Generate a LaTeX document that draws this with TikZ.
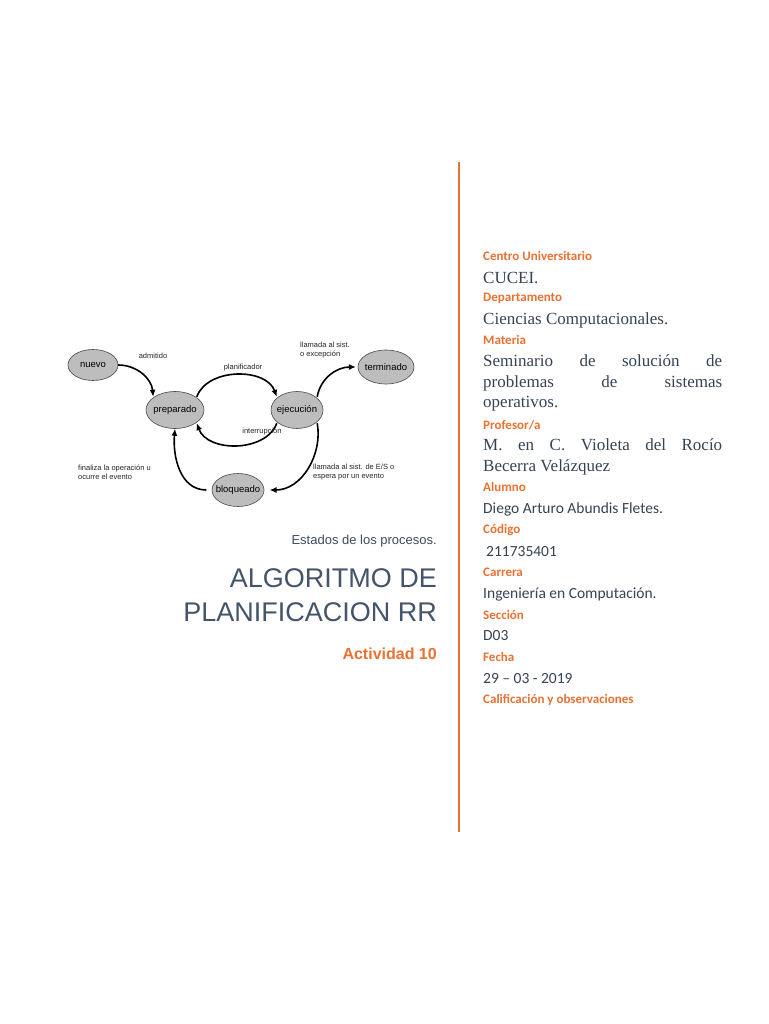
\documentclass[tikz,border=0pt]{standalone}
\usepackage{fontspec}
\setmainfont{Liberation Serif}
\newfontfamily\calfnt{Carlito}
\newfontfamily\ars{Liberation Sans}
\usetikzlibrary{shapes.geometric,arrows.meta}
\definecolor{org}{HTML}{E97132}
\definecolor{ttl}{HTML}{44546A}
\definecolor{stfill}{HTML}{BDBDBD}
\tikzset{
 st/.style={ellipse,font=\ars\fontsize{9.5}{10}\selectfont,inner sep=0pt},
 el/.style={draw=black!70,line width=0.6pt,fill=stfill},
 tr/.style={line width=1.6pt,-{Latex[length=7pt,width=6pt]}},
 lb/.style={font=\ars\fontsize{7.5}{9}\selectfont,align=left,inner sep=0pt,text=black!85},
 hd/.style={anchor=west,font=\calfnt\bfseries\fontsize{13}{14}\selectfont,text=org,inner sep=0pt},
 vs/.style={anchor=west,font=\fontsize{17}{18}\selectfont,text=ttl!80!black,inner sep=0pt},
 vc/.style={anchor=west,font=\calfnt\fontsize{15.5}{18}\selectfont,text=ttl!80!black,inner sep=0pt},
 jl/.style={anchor=west,font=\fontsize{17}{18}\selectfont,text=ttl!80!black,inner sep=0pt}
}
\newcommand\jline[1]{\makebox[239pt][s]{#1}}
\begin{document}
\begin{tikzpicture}[x=1pt,y=1pt]
\useasboundingbox[fill=white] (0,-1024) rectangle (768,0);
% diagram
\path[el] (93,-365) ellipse [x radius=25, y radius=15.5];
\path[el] (175,-410) ellipse [x radius=29, y radius=18.5];
\path[el] (297,-410) ellipse [x radius=26, y radius=18.5];
\path[el] (386,-367) ellipse [x radius=28, y radius=17];
\path[el] (238,-490) ellipse [x radius=26, y radius=16.5];
\node[st,minimum width=50pt,minimum height=31pt] (nu) at (93,-365) {nuevo};
\node[st,minimum width=58pt,minimum height=37pt] (pr) at (175,-410) {preparado};
\node[st,minimum width=52pt,minimum height=37pt] (ej) at (297,-410) {ejecución};
\node[st,minimum width=56pt,minimum height=34pt] (te) at (386,-367) {terminado};
\node[st,minimum width=52pt,minimum height=33pt] (bl) at (238,-490) {bloqueado};
\draw[tr] (nu.east) to[out=0,in=95] (pr.north west);
\draw[tr] (pr.north east) to[out=70,in=110] (ej.north west);
\draw[tr] (ej.south west) to[out=-110,in=-70] (pr.south east);
\draw[tr] (ej.north east) to[out=80,in=180] (te.west);
\draw[tr] (ej.south east) to[out=-80,in=0] (bl.east);
\draw[tr] (bl.west) to[out=180,in=-95] (pr.south);
\node[lb] (l1) at (153,-356) {admitido};
\node[lb] (l2) at (243,-368) {planificador};
\node[lb] (l3) at (262,-432) {interrupción};
\node[lb,anchor=west] (l4) at (300,-350) {llamada al sist.\\o excepción};
\node[lb,anchor=west] (l5) at (78,-472) {finaliza la operación u\\ocurre el evento};
\node[lb,anchor=west] (l6) at (313,-472) {llamada al sist. de E/S o\\espera por un evento};
% title
\node[anchor=east,font=\ars\fontsize{13}{14}\selectfont,text=ttl!90!black,inner sep=0pt] (es) at (437,-541) {Estados de los procesos.};
\node[anchor=east,font=\ars\fontsize{27}{30}\selectfont,text=ttl,inner sep=0pt] (a1) at (437,-578) {ALGORITMO DE};
\node[anchor=east,font=\ars\fontsize{27}{30}\selectfont,text=ttl,inner sep=0pt] (a2) at (437,-612) {PLANIFICACION RR};
\node[anchor=east,font=\ars\bfseries\fontsize{16}{18}\selectfont,text=org,inner sep=0pt] (ac) at (437,-654) {Actividad 10};
% divider
\draw[org,line width=2pt] (459,-162) -- (459,-832);
% right column
\node[hd] (h1) at (483,-256) {Centro Universitario};
\node[vs] (v1) at (483,-278) {CUCEI.};
\node[hd] (h2) at (483,-298) {Departamento};
\node[vs] (v2) at (483,-320) {Ciencias Computacionales.};
\node[hd] (h3) at (483,-340) {Materia};
\node[jl] (v3a) at (483,-361) {\jline{Seminario de solución de}};
\node[jl] (v3b) at (483,-383) {\jline{problemas de sistemas}};
\node[jl] (v3c) at (483,-404) {operativos.};
\node[hd] (h4) at (483,-425) {Profesor/a};
\node[jl] (v4a) at (483,-445) {\jline{M. en C. Violeta del Rocío}};
\node[jl] (v4b) at (483,-467) {Becerra Velázquez};
\node[hd] (h5) at (483,-487) {Alumno};
\node[vc] (v5) at (483,-509) {Diego Arturo Abundis Fletes.};
\node[hd] (h6) at (483,-530) {Código};
\node[vc] (v6) at (486,-552) {211735401};
\node[hd] (h7) at (483,-572) {Carrera};
\node[vc] (v7) at (483,-594) {Ingeniería en Computación.};
\node[hd] (h8) at (483,-615) {Sección};
\node[vc] (v8) at (483,-636) {D03};
\node[hd] (h9) at (483,-657) {Fecha};
\node[vc] (v9) at (483,-679) {29 – 03 - 2019};
\node[hd] (h10) at (483,-700) {Calificación y observaciones};
\end{tikzpicture}
\end{document}
